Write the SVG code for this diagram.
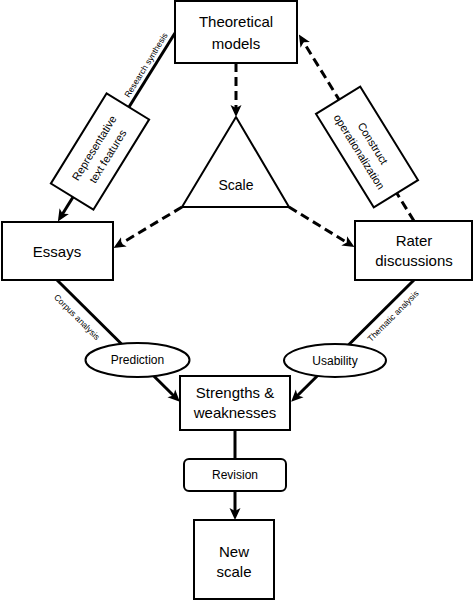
<svg xmlns="http://www.w3.org/2000/svg" width="474" height="601" viewBox="0 0 474 601">
<style>
.box{fill:#fff;stroke:#000;stroke-width:2}
.t{font-family:"Liberation Sans",Arial,sans-serif;fill:#000;text-anchor:middle}
.big{font-size:15px}
.mid{font-size:12px}
.rot{font-size:11px}
.sm{font-size:8.5px}
.solid{stroke:#000;stroke-width:3;fill:none}
.dash{stroke:#000;stroke-width:3;fill:none;stroke-dasharray:9 5}
</style>
<defs>
<marker id="ah" viewBox="0 0 12 12" refX="8" refY="6" markerWidth="12" markerHeight="12" markerUnits="userSpaceOnUse" orient="auto">
<path d="M0,0.5 L12,6 L0,11.5 L3,6 z" fill="#000"/>
</marker>
</defs>
<rect width="474" height="601" fill="#fff"/>
<g id="connectors">
<line class="dash" x1="236" y1="63" x2="236" y2="113" marker-end="url(#ah)"/>
<line class="dash" x1="182" y1="207" x2="117" y2="246" marker-end="url(#ah)"/>
<line class="dash" x1="289" y1="207" x2="351" y2="245" marker-end="url(#ah)"/>
<line class="solid" x1="175" y1="33" x2="60" y2="218" marker-end="url(#ah)"/>
<line class="dash" x1="414" y1="221" x2="301" y2="38" marker-end="url(#ah)"/>
<line class="solid" x1="57" y1="280" x2="177" y2="399" marker-end="url(#ah)"/>
<line class="solid" x1="414" y1="280" x2="294" y2="399" marker-end="url(#ah)"/>
<line class="solid" x1="235" y1="430" x2="235" y2="459"/>
<line class="solid" x1="235" y1="491" x2="235" y2="516" marker-end="url(#ah)"/>
<text class="t sm" transform="translate(146,65) rotate(-58.3)" y="3">Research synthesis</text>
<text class="t sm" transform="translate(77,317) rotate(45)" y="3">Corpus analysis</text>
<text class="t sm" transform="translate(393,316) rotate(-45)" y="3">Thematic analysis</text>
</g>
<g id="theoretical">
<rect class="box" x="175" y="1" width="122" height="62"/>
<text class="t big" x="236" y="27">Theoretical</text>
<text class="t big" x="236" y="49">models</text>
</g>
<g id="scale">
<polygon class="box" points="236,117 289,207 182,207" stroke-linejoin="round"/>
<text class="t" style="font-size:14px" x="236" y="190">Scale</text>
</g>
<g id="representative">
<g transform="translate(100,151.5) rotate(-58.3)">
<rect class="box" x="-53" y="-25" width="106" height="50"/>
<text class="t rot" y="-3">Representative</text>
<text class="t rot" y="13">text features</text>
</g>
</g>
<g id="construct">
<g transform="translate(367,147) rotate(58.3)">
<rect class="box" x="-55" y="-26" width="110" height="52"/>
<text class="t rot" y="-3">Construct</text>
<text class="t rot" y="13">operationalization</text>
</g>
</g>
<g id="essays">
<rect class="box" x="2" y="222" width="111" height="58"/>
<text class="t big" x="57" y="257">Essays</text>
</g>
<g id="rater">
<rect class="box" x="355" y="221" width="117" height="59"/>
<text class="t big" x="414" y="246">Rater</text>
<text class="t big" x="414" y="266">discussions</text>
</g>
<g id="prediction">
<ellipse class="box" cx="137.5" cy="360" rx="52" ry="17"/>
<text class="t mid" x="137.5" y="364">Prediction</text>
</g>
<g id="usability">
<ellipse class="box" cx="335" cy="360.5" rx="51" ry="16.5"/>
<text class="t mid" x="335" y="365">Usability</text>
</g>
<g id="strengths">
<rect class="box" x="180" y="376" width="110" height="54"/>
<text class="t big" x="235" y="398">Strengths &amp;</text>
<text class="t big" x="235" y="418">weaknesses</text>
</g>
<g id="revision">
<rect class="box" x="184" y="459" width="102" height="32" rx="5"/>
<text class="t mid" x="235" y="479">Revision</text>
</g>
<g id="newscale">
<rect class="box" x="194" y="520" width="80" height="79"/>
<text class="t big" x="234" y="557">New</text>
<text class="t big" x="234" y="577">scale</text>
</g>
</svg>
